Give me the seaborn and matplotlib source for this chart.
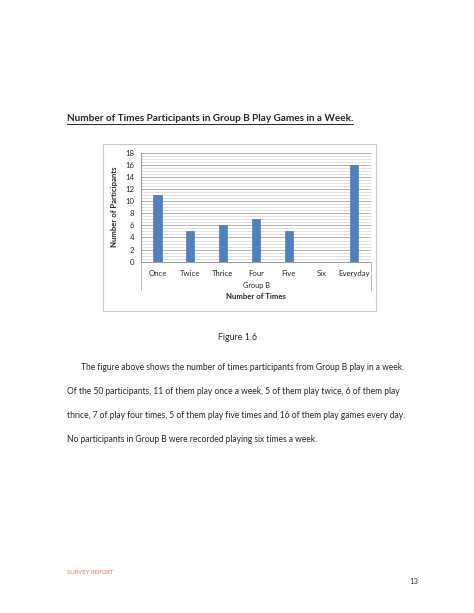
import numpy as np
import pandas as pd
import matplotlib
matplotlib.use("Agg")
import matplotlib.pyplot as plt
import seaborn as sns
from matplotlib.patches import Rectangle
from matplotlib.lines import Line2D
from matplotlib.ticker import MultipleLocator

# --- datos del grafico ---
categories = ["Once", "Twice", "Thrice", "Four", "Five", "Six", "Everyday"]
participants = [11, 5, 6, 7, 5, 0, 16]
y_ticks = [0, 2, 4, 6, 8, 10, 12, 14, 16, 18]

title = "Number of Times Participants in Group B Play Games in a Week."
caption = "Figure 1.6"
paragraph = [
    "The figure above shows the number of times participants from Group B play in a week.",
    "Of the 50 participants, 11 of them play once a week, 5 of them play twice, 6 of them play",
    "thrice, 7 of play four times, 5 of them play five times and 16 of them play games every day.",
    "No participants in Group B were recorded playing six times a week.",
]

df = pd.DataFrame({"times": categories, "count": participants})

sns.set_style("white")
plt.rcParams["font.family"] = ["Lato", "DejaVu Sans"]

W, H = 474, 613
fig = plt.figure(figsize=(W / 100, H / 100), dpi=100)
fig.patch.set_facecolor("white")

def fx(px):
    return px / W

def fy(py):
    return 1 - py / H

# marco del grafico
fig.patches.append(Rectangle((fx(103), fy(311)), fx(376) - fx(103), fy(144) - fy(311),
                             transform=fig.transFigure, fill=False, edgecolor="#c8c8c8", lw=0.8))

ax = fig.add_axes([fx(141), fy(261.7), fx(370.7) - fx(141), fy(152.7) - fy(261.7)])
sns.barplot(data=df, x="times", y="count", color="#4F81BD", width=0.25, saturation=1,
            edgecolor="#3c6fa8", linewidth=0.4, ax=ax, zorder=3)
ax.set_ylim(0, 18)
ax.set_xlim(-0.5, len(categories) - 0.5)
ax.set_yticks(y_ticks)
ax.yaxis.set_minor_locator(MultipleLocator(0.5))
ax.grid(axis="y", which="major", color="#a6a6a6", lw=0.6, zorder=0)
ax.grid(axis="y", which="minor", color="#d4d4d4", lw=0.5, zorder=0)
ax.set_axisbelow(True)
for side in ["top", "right"]:
    ax.spines[side].set_visible(False)
ax.spines["left"].set_color("#8c8c8c")
ax.spines["left"].set_linewidth(0.6)
ax.spines["bottom"].set_color("#8c8c8c")
ax.spines["bottom"].set_linewidth(0.6)
ax.tick_params(axis="y", labelsize=5.6, length=2, width=0.5, color="#8c8c8c", pad=3)
ax.tick_params(axis="x", labelsize=5.6, length=0, pad=6)
ax.set_xlabel("")
ax.set_ylabel("Number of Participants", fontsize=5.6, fontweight="bold", labelpad=5)

# lineas del eje de categorias multinivel
for x in [141, 370.7]:
    fig.add_artist(Line2D([fx(x), fx(x)], [fy(261.7), fy(290)], transform=fig.transFigure,
                          color="#b0b0b0", lw=0.6))
fig.text(fx(256), fy(285.7), "Group B", fontsize=5.3, ha="center", va="center")
fig.text(fx(256), fy(296.7), "Number of Times", fontsize=5.6, fontweight="bold", ha="center", va="center")

# texto del documento
t = fig.text(fx(67), fy(119), title, fontsize=7.2, fontweight="bold", ha="left", va="center")
fig.canvas.draw()
bb = t.get_window_extent().transformed(fig.transFigure.inverted())
fig.add_artist(Line2D([bb.x0, bb.x1], [bb.y0 - 0.001, bb.y0 - 0.001], transform=fig.transFigure,
                      color="black", lw=0.6))

fig.text(fx(237), fy(337), caption, fontsize=6.3, ha="center", va="center")
line_y = [367, 391, 416, 440]
for i, (line, yy) in enumerate(zip(paragraph, line_y)):
    fig.text(fx(81 if i == 0 else 67), fy(yy), line, fontsize=6.15, ha="left", va="center")

fig.text(fx(67), fy(573), "SURVEY REPORT", fontsize=4.3, color="#d9707a", ha="left", va="center")
fig.text(fx(414), fy(581), "13", fontsize=5.5, color="#333333", ha="center", va="center")

fig.savefig("out.png", dpi=100, facecolor="white")
